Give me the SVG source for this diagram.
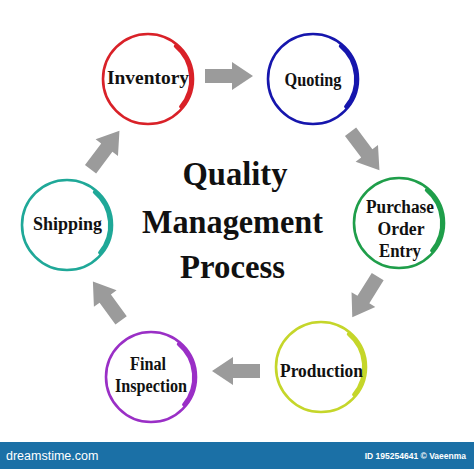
<svg xmlns="http://www.w3.org/2000/svg" width="474" height="469" viewBox="0 0 474 469">
<style>
.ring{fill:none;stroke-width:2.6}
.brush{fill:none;stroke-width:3.6;stroke-linecap:round}
.lbl{font-family:"Liberation Serif","Times New Roman",serif;font-weight:bold;font-size:18px;fill:#111;text-anchor:middle}
.title{font-family:"Liberation Serif","Times New Roman",serif;font-weight:bold;font-size:33px;fill:#111;text-anchor:middle}
.arrow{fill:#9b9b9b}
.bn{font-family:"Liberation Sans",Arial,sans-serif;fill:#fff}
</style>
<defs>
<path id="arr" d="M-24,-7 H3 V-14 L24,0 L3,14 V7 H-24 Z"/>
</defs>
<rect width="474" height="469" fill="#fff"/>

<g id="title">
<text class="title" x="235" y="185" textLength="105" lengthAdjust="spacingAndGlyphs">Quality</text>
<text class="title" x="232.5" y="233" textLength="181" lengthAdjust="spacingAndGlyphs">Management</text>
<text class="title" x="232.5" y="278" textLength="105" lengthAdjust="spacingAndGlyphs">Process</text>
</g>

<g id="connectors">
<use href="#arr" class="arrow" transform="translate(229,76)"/>
<use href="#arr" class="arrow" transform="translate(365,151) rotate(53)"/>
<use href="#arr" class="arrow" transform="translate(365,297) rotate(122)"/>
<use href="#arr" class="arrow" transform="translate(236,371) rotate(180)"/>
<use href="#arr" class="arrow" transform="translate(107,301) rotate(234)"/>
<use href="#arr" class="arrow" transform="translate(105,150) rotate(-53)"/>
</g>

<g id="inventory" transform="translate(148,79)">
<circle class="ring" r="45" stroke="#d92128"/>
<path class="brush" stroke="#d92128" d="M27.6,-32.9 A43,43 0 0 1 32.9,27.6"/>
<text class="lbl" x="0" y="5" textLength="82" lengthAdjust="spacingAndGlyphs">Inventory</text>
</g>

<g id="quoting" transform="translate(313,79)">
<circle class="ring" r="45" stroke="#1616ad"/>
<path class="brush" stroke="#1616ad" d="M27.6,-32.9 A43,43 0 0 1 32.9,27.6"/>
<text class="lbl" x="0" y="7" textLength="57" lengthAdjust="spacingAndGlyphs">Quoting</text>
</g>

<g id="purchase" transform="translate(399,223)">
<circle class="ring" r="45" stroke="#1f9e4a"/>
<path class="brush" stroke="#1f9e4a" d="M27.6,-32.9 A43,43 0 0 1 32.9,27.6"/>
<text class="lbl" x="1" y="-10" textLength="68" lengthAdjust="spacingAndGlyphs">Purchase</text>
<text class="lbl" x="2" y="12" textLength="47" lengthAdjust="spacingAndGlyphs">Order</text>
<text class="lbl" x="1" y="34" textLength="42" lengthAdjust="spacingAndGlyphs">Entry</text>
</g>

<g id="production" transform="translate(321,367)">
<circle class="ring" r="45" stroke="#c5d62a"/>
<path class="brush" stroke="#c5d62a" d="M27.6,-32.9 A43,43 0 0 1 32.9,27.6"/>
<text class="lbl" x="0.5" y="10" textLength="83" lengthAdjust="spacingAndGlyphs">Production</text>
</g>

<g id="final-inspection" transform="translate(151,377)">
<circle class="ring" r="45" stroke="#9a2fc6"/>
<path class="brush" stroke="#9a2fc6" d="M27.6,-32.9 A43,43 0 0 1 32.9,27.6"/>
<text class="lbl" x="-3" y="-7" textLength="36" lengthAdjust="spacingAndGlyphs">Final</text>
<text class="lbl" x="0" y="15" textLength="72" lengthAdjust="spacingAndGlyphs">Inspection</text>
</g>

<g id="shipping" transform="translate(67,225)">
<circle class="ring" r="45" stroke="#1fa898"/>
<path class="brush" stroke="#1fa898" d="M27.6,-32.9 A43,43 0 0 1 32.9,27.6"/>
<text class="lbl" x="0.5" y="5" textLength="69" lengthAdjust="spacingAndGlyphs">Shipping</text>
</g>

<g id="banner">
<rect x="0" y="442" width="474" height="27" fill="#1b70a6"/>
<text class="bn" x="6" y="460" font-size="12.5">dreamstime.com</text>
<text class="bn" x="466" y="459" font-size="8.5" font-weight="bold" text-anchor="end">ID 195254641 © Vaeenma</text>
</g>
</svg>
